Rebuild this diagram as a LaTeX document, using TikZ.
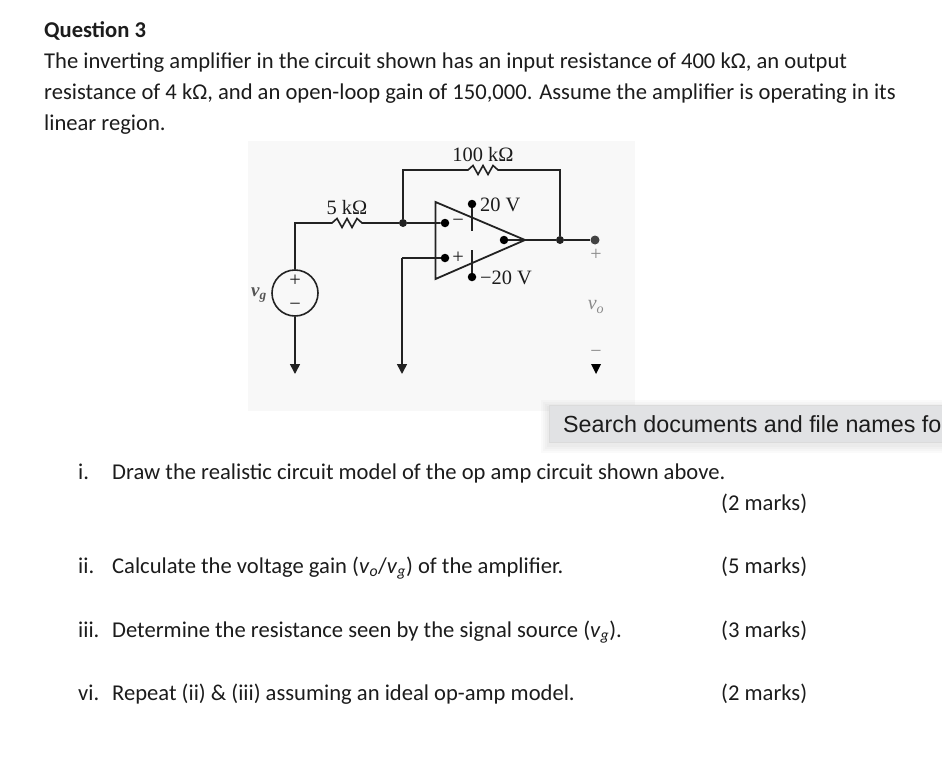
\documentclass[tikz,border=0pt]{standalone}
\usepackage{fontspec}
\setmainfont{Carlito}
\newfontfamily\circfont{Liberation Serif}
\newfontfamily\uifont{Liberation Sans}
\usetikzlibrary{arrows.meta}
\definecolor{ink}{HTML}{1C1C1C}
\definecolor{wirec}{HTML}{222222}
\definecolor{panel}{HTML}{F8F8F8}
\definecolor{paleink}{HTML}{8A8A8A}
\definecolor{boxc}{HTML}{E1E2E4}
\tikzset{
  x=1pt,y=-1pt,
  bodytext/.style={anchor=base west,inner sep=0pt,text=ink,font=\fontsize{22.6}{25}\selectfont},
  circtext/.style={inner sep=0pt,text=ink,font=\circfont\fontsize{20.4}{23}\selectfont},
  paletext/.style={inner sep=0pt,text=paleink,font=\circfont\fontsize{20}{23}\selectfont},
  wire/.style={draw=wirec,line width=1.6pt,line join=miter},
  tipwire/.style={wire,-{Triangle[width=10pt,length=10pt]}},
  dot/.style={circle,fill=wirec,inner sep=0pt,minimum size=8pt},
  pin/.style={circle,fill=black,inner sep=0pt,minimum size=8.5pt},
  terminal/.style={circle,fill=wirec!85,inner sep=0pt,minimum size=9pt},
}
\newcommand{\zigzag}{-- ++(5,-4.5) -- ++(5,9) -- ++(5,-9) -- ++(5,9) -- ++(5,-9) -- ++(5,4.5)}
\begin{document}
\begin{tikzpicture}
\useasboundingbox (0,0) rectangle (942,760);
\fill[white] (0,0) rectangle (942,760);
% text
\node[bodytext,font=\fontsize{22.6}{25}\selectfont\bfseries] (q) at (44,37.8) {Question 3};
\node[bodytext] (l1) at (44,68.6) {The inverting amplifier in the circuit shown has an input resistance of 400 kΩ, an output};
\node[bodytext] (l2) at (44,99.8) {resistance of 4 kΩ, and an open-loop gain of 150,000. Assume the amplifier is operating in its};
\node[bodytext] (l3) at (44,130.8) {linear region.};
% panel
\fill[panel] (248,141) rectangle (635,411);
% nodes
\node[circle,draw=wirec,line width=1.6pt,fill=none,inner sep=0pt,minimum size=46pt] (src) at (295,293) {};
\node[dot] (nin) at (403,223) {};
\node[dot] (nout) at (560,240) {};
\node[terminal] (tout) at (595,240) {};
\node[pin] (pinv) at (445,223) {};
\node[pin] (pnon) at (445,258) {};
\node[pin] (pout) at (504,240) {};
\node[pin] (vcc) at (472,204) {};
\node[pin] (vee) at (472,277) {};
\coordinate (oa) at (435.5,202);
\coordinate (ob) at (525,240);
\coordinate (oc) at (435.5,279);
\coordinate (r1a) at (332,223);
\coordinate (r2a) at (468,170);
\coordinate (g1) at (295,374);
\coordinate (g2) at (402,374);
\coordinate (g3) at (596,364);
\coordinate (c1) at (472,231);
\coordinate (c2) at (472,250);
\coordinate (wn) at (402,258);
% op amp
\draw[wire,line width=1.8pt] (oa) -- (ob) -- (oc) -- cycle;
% wires
\draw[wire] (src.north) |- (r1a) \zigzag -- (nin) -- (pinv);
\draw[wire] (nin) |- (r2a) \zigzag -| (nout);
\draw[wire] (ob) -- (nout) -- (tout);
\draw[wire] (pout) -- (ob);
\draw[wire] (pnon) -- (wn);
\draw[tipwire] (wn) -- (g2);
\draw[tipwire] (src.south) -- (g1);
\draw[wire] (vcc) -- (c1);
\draw[wire] (vee) -- (c2);
\fill[black] (g3) ++(-5,0) -- ++(10,0) -- ++(-5,10) -- cycle;
% circuit labels
\node[circtext] (t100) at (483,155) {100 kΩ};
\node[circtext] (t5) at (347,208) {5 kΩ};
\node[circtext,anchor=west] (t20) at (480,205) {20 V};
\node[circtext,anchor=west] (tm20) at (480,278) {−20 V};
\node[circtext] (minus) at (458,223) {−};
\node[circtext] (plus) at (458,258) {+};
\node[circtext] (sp) at (295,281) {+};
\node[circtext] (sm) at (295,307) {−};
\node[circtext,font=\circfont\itshape\bfseries\fontsize{19}{20}\selectfont,text=ink!75] (vg) at (259,295) {v\textsubscript{g}};
\node[paletext,font=\circfont\itshape\fontsize{20}{20}\selectfont] (vo) at (596,307) {v\textsubscript{o}};
\node[paletext] (op) at (596,255) {+};
\node[paletext] (om) at (596,354) {−};
% search box
\foreach \g in {8,6,4,2}{
  \fill[black,opacity=0.02] (549-\g,405-\g+3) rectangle (950,442+\g+3);
}
\fill[boxc] (549,405) rectangle (942,442);
\draw[black!14,line width=0.7pt] (942,405) -- (549,405) -- (549,442) -- (942,442);
\begin{scope}
\clip (549,405) rectangle (942,442);
\node[anchor=base west,inner sep=0pt,text=ink,font=\uifont\fontsize{23.3}{25}\selectfont] (search) at (563,432) {Search documents and file names fo};
\end{scope}
% questions
\node[bodytext] (i1) at (78,479) {i.};
\node[bodytext] (i2) at (112,479) {Draw the realistic circuit model of the op amp circuit shown above.};
\node[bodytext] (m1) at (721,510.5) {(2 marks)};
\node[bodytext] (ii1) at (78,573.5) {ii.};
\node[bodytext] (ii2) at (112,573.5) {Calculate the voltage gain (\textit{v}\textsubscript{\textit{o}}/\textit{v}\textsubscript{\textit{g}}) of the amplifier.};
\node[bodytext] (m2) at (721,573.5) {(5 marks)};
\node[bodytext] (iii1) at (78,637) {iii.};
\node[bodytext] (iii2) at (112,637) {Determine the resistance seen by the signal source (\textit{v}\textsubscript{\textit{g}}).};
\node[bodytext] (m3) at (721,637) {(3 marks)};
\node[bodytext] (vi1) at (78,700.5) {vi.};
\node[bodytext] (vi2) at (112,700.5) {Repeat (ii) \& (iii) assuming an ideal op-amp model.};
\node[bodytext] (m4) at (721,700.5) {(2 marks)};
\end{tikzpicture}
\end{document}
